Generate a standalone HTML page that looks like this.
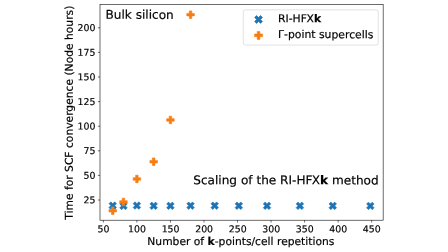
<!DOCTYPE html>
<html lang="en"><head><meta charset="utf-8"><title>RI-HFXk scaling</title>
<style>html,body{margin:0;padding:0;background:#fff;width:448px;height:252px;overflow:hidden}svg{display:block}</style>
</head><body>
<svg width="448" height="252" viewBox="0 0 448 252" font-family="'DejaVu Sans', 'Liberation Sans', sans-serif" fill="#000">
<style>text{stroke:#000;stroke-width:0.18px}</style>
<rect width="448" height="252" fill="#fff"/>
<path d="M110.85 201.83 L112.74 203.72 L114.63 201.83 L116.52 203.72 L114.63 205.60 L116.52 207.49 L114.63 209.38 L112.74 207.49 L110.85 209.38 L108.97 207.49 L110.85 205.60 L108.97 203.72Z" fill="#1d75b7" stroke="#1d75b7" stroke-width="0.6" stroke-linejoin="miter"/>
<path d="M121.59 202.13 L123.47 204.02 L125.36 202.13 L127.25 204.02 L125.36 205.90 L127.25 207.79 L125.36 209.68 L123.47 207.79 L121.59 209.68 L119.70 207.79 L121.59 205.90 L119.70 204.02Z" fill="#1d75b7" stroke="#1d75b7" stroke-width="0.6" stroke-linejoin="miter"/>
<path d="M135.00 201.78 L136.89 203.67 L138.78 201.78 L140.66 203.67 L138.78 205.55 L140.66 207.44 L138.78 209.33 L136.89 207.44 L135.00 209.33 L133.11 207.44 L135.00 205.55 L133.11 203.67Z" fill="#1d75b7" stroke="#1d75b7" stroke-width="0.6" stroke-linejoin="miter"/>
<path d="M151.77 202.06 L153.66 203.95 L155.55 202.06 L157.44 203.95 L155.55 205.83 L157.44 207.72 L155.55 209.61 L153.66 207.72 L151.77 209.61 L149.88 207.72 L151.77 205.83 L149.88 203.95Z" fill="#1d75b7" stroke="#1d75b7" stroke-width="0.6" stroke-linejoin="miter"/>
<path d="M168.54 202.06 L170.43 203.95 L172.32 202.06 L174.21 203.95 L172.32 205.83 L174.21 207.72 L172.32 209.61 L170.43 207.72 L168.54 209.61 L166.66 207.72 L168.54 205.83 L166.66 203.95Z" fill="#1d75b7" stroke="#1d75b7" stroke-width="0.6" stroke-linejoin="miter"/>
<path d="M188.67 201.93 L190.55 203.82 L192.44 201.93 L194.33 203.82 L192.44 205.70 L194.33 207.59 L192.44 209.48 L190.55 207.59 L188.67 209.48 L186.78 207.59 L188.67 205.70 L186.78 203.82Z" fill="#1d75b7" stroke="#1d75b7" stroke-width="0.6" stroke-linejoin="miter"/>
<path d="M212.82 201.93 L214.70 203.82 L216.59 201.93 L218.48 203.82 L216.59 205.70 L218.48 207.59 L216.59 209.48 L214.70 207.59 L212.82 209.48 L210.93 207.59 L212.82 205.70 L210.93 203.82Z" fill="#1d75b7" stroke="#1d75b7" stroke-width="0.6" stroke-linejoin="miter"/>
<path d="M236.96 201.98 L238.85 203.87 L240.74 201.98 L242.63 203.87 L240.74 205.75 L242.63 207.64 L240.74 209.53 L238.85 207.64 L236.96 209.53 L235.08 207.64 L236.96 205.75 L235.08 203.87Z" fill="#1d75b7" stroke="#1d75b7" stroke-width="0.6" stroke-linejoin="miter"/>
<path d="M265.14 202.03 L267.03 203.92 L268.91 202.03 L270.80 203.92 L268.91 205.80 L270.80 207.69 L268.91 209.58 L267.03 207.69 L265.14 209.58 L263.25 207.69 L265.14 205.80 L263.25 203.92Z" fill="#1d75b7" stroke="#1d75b7" stroke-width="0.6" stroke-linejoin="miter"/>
<path d="M298.01 202.03 L299.89 203.92 L301.78 202.03 L303.67 203.92 L301.78 205.80 L303.67 207.69 L301.78 209.58 L299.89 207.69 L298.01 209.58 L296.12 207.69 L298.01 205.80 L296.12 203.92Z" fill="#1d75b7" stroke="#1d75b7" stroke-width="0.6" stroke-linejoin="miter"/>
<path d="M330.88 202.08 L332.76 203.97 L334.65 202.08 L336.54 203.97 L334.65 205.85 L336.54 207.74 L334.65 209.63 L332.76 207.74 L330.88 209.63 L328.99 207.74 L330.88 205.85 L328.99 203.97Z" fill="#1d75b7" stroke="#1d75b7" stroke-width="0.6" stroke-linejoin="miter"/>
<path d="M368.44 202.13 L370.33 204.02 L372.22 202.13 L374.10 204.02 L372.22 205.90 L374.10 207.79 L372.22 209.68 L370.33 207.79 L368.44 209.68 L366.55 207.79 L368.44 205.90 L366.55 204.02Z" fill="#1d75b7" stroke="#1d75b7" stroke-width="0.6" stroke-linejoin="miter"/>
<path d="M111.48 206.90 L114.00 206.90 L114.00 209.41 L116.52 209.41 L116.52 211.93 L114.00 211.93 L114.00 214.45 L111.48 214.45 L111.48 211.93 L108.97 211.93 L108.97 209.41 L111.48 209.41Z" fill="#f97c11" stroke="#f97c11" stroke-width="0.6" stroke-linejoin="miter"/>
<path d="M122.22 198.14 L124.73 198.14 L124.73 200.65 L127.25 200.65 L127.25 203.17 L124.73 203.17 L124.73 205.69 L122.22 205.69 L122.22 203.17 L119.70 203.17 L119.70 200.65 L122.22 200.65Z" fill="#f97c11" stroke="#f97c11" stroke-width="0.6" stroke-linejoin="miter"/>
<path d="M135.63 175.21 L138.15 175.21 L138.15 177.73 L140.66 177.73 L140.66 180.24 L138.15 180.24 L138.15 182.76 L135.63 182.76 L135.63 180.24 L133.11 180.24 L133.11 177.73 L135.63 177.73Z" fill="#f97c11" stroke="#f97c11" stroke-width="0.6" stroke-linejoin="miter"/>
<path d="M152.40 157.89 L154.92 157.89 L154.92 160.41 L157.44 160.41 L157.44 162.93 L154.92 162.93 L154.92 165.44 L152.40 165.44 L152.40 162.93 L149.88 162.93 L149.88 160.41 L152.40 160.41Z" fill="#f97c11" stroke="#f97c11" stroke-width="0.6" stroke-linejoin="miter"/>
<path d="M169.17 116.17 L171.69 116.17 L171.69 118.69 L174.21 118.69 L174.21 121.20 L171.69 121.20 L171.69 123.72 L169.17 123.72 L169.17 121.20 L166.66 121.20 L166.66 118.69 L169.17 118.69Z" fill="#f97c11" stroke="#f97c11" stroke-width="0.6" stroke-linejoin="miter"/>
<path d="M189.30 10.88 L191.81 10.88 L191.81 13.40 L194.33 13.40 L194.33 15.92 L191.81 15.92 L191.81 18.43 L189.30 18.43 L189.30 15.92 L186.78 15.92 L186.78 13.40 L189.30 13.40Z" fill="#f97c11" stroke="#f97c11" stroke-width="0.6" stroke-linejoin="miter"/>
<line x1="103.35" x2="103.35" y1="220.2" y2="222.5" stroke="#000" stroke-width="0.58"/>
<text transform="translate(103.50 232.3) rotate(0.03)" font-size="9.4" text-anchor="middle">50</text>
<line x1="136.89" x2="136.89" y1="220.2" y2="222.5" stroke="#000" stroke-width="0.58"/>
<text transform="translate(137.04 232.3) rotate(0.03)" font-size="9.4" text-anchor="middle">100</text>
<line x1="170.43" x2="170.43" y1="220.2" y2="222.5" stroke="#000" stroke-width="0.58"/>
<text transform="translate(170.58 232.3) rotate(0.03)" font-size="9.4" text-anchor="middle">150</text>
<line x1="203.97" x2="203.97" y1="220.2" y2="222.5" stroke="#000" stroke-width="0.58"/>
<text transform="translate(204.12 232.3) rotate(0.03)" font-size="9.4" text-anchor="middle">200</text>
<line x1="237.51" x2="237.51" y1="220.2" y2="222.5" stroke="#000" stroke-width="0.58"/>
<text transform="translate(237.66 232.3) rotate(0.03)" font-size="9.4" text-anchor="middle">250</text>
<line x1="271.05" x2="271.05" y1="220.2" y2="222.5" stroke="#000" stroke-width="0.58"/>
<text transform="translate(271.20 232.3) rotate(0.03)" font-size="9.4" text-anchor="middle">300</text>
<line x1="304.59" x2="304.59" y1="220.2" y2="222.5" stroke="#000" stroke-width="0.58"/>
<text transform="translate(304.74 232.3) rotate(0.03)" font-size="9.4" text-anchor="middle">350</text>
<line x1="338.13" x2="338.13" y1="220.2" y2="222.5" stroke="#000" stroke-width="0.58"/>
<text transform="translate(338.28 232.3) rotate(0.03)" font-size="9.4" text-anchor="middle">400</text>
<line x1="371.67" x2="371.67" y1="220.2" y2="222.5" stroke="#000" stroke-width="0.58"/>
<text transform="translate(371.82 232.3) rotate(0.03)" font-size="9.4" text-anchor="middle">450</text>
<line x1="97.9" x2="100.0" y1="200.00" y2="200.00" stroke="#000" stroke-width="0.58"/>
<text transform="translate(95.45 203.30) rotate(0.03)" font-size="9.4" text-anchor="end">25</text>
<line x1="97.9" x2="100.0" y1="175.40" y2="175.40" stroke="#000" stroke-width="0.58"/>
<text transform="translate(95.45 178.70) rotate(0.03)" font-size="9.4" text-anchor="end">50</text>
<line x1="97.9" x2="100.0" y1="150.80" y2="150.80" stroke="#000" stroke-width="0.58"/>
<text transform="translate(95.45 154.10) rotate(0.03)" font-size="9.4" text-anchor="end">75</text>
<line x1="97.9" x2="100.0" y1="126.20" y2="126.20" stroke="#000" stroke-width="0.58"/>
<text transform="translate(95.45 129.50) rotate(0.03)" font-size="9.4" text-anchor="end">100</text>
<line x1="97.9" x2="100.0" y1="101.60" y2="101.60" stroke="#000" stroke-width="0.58"/>
<text transform="translate(95.45 104.90) rotate(0.03)" font-size="9.4" text-anchor="end">125</text>
<line x1="97.9" x2="100.0" y1="77.00" y2="77.00" stroke="#000" stroke-width="0.58"/>
<text transform="translate(95.45 80.30) rotate(0.03)" font-size="9.4" text-anchor="end">150</text>
<line x1="97.9" x2="100.0" y1="52.40" y2="52.40" stroke="#000" stroke-width="0.58"/>
<text transform="translate(95.45 55.70) rotate(0.03)" font-size="9.4" text-anchor="end">175</text>
<line x1="97.9" x2="100.0" y1="27.80" y2="27.80" stroke="#000" stroke-width="0.58"/>
<text transform="translate(95.45 31.10) rotate(0.03)" font-size="9.4" text-anchor="end">200</text>
<rect x="100.0" y="4.4" width="283.15" height="215.80" fill="none" stroke="#000" stroke-width="0.58"/>
<text transform="translate(240.88 245.05) rotate(0.03)" font-size="10.73" text-anchor="middle">Number of <tspan font-weight="bold">k</tspan>-points/cell repetitions</text>
<text transform="translate(72.7 112.70) rotate(-90.03)" font-size="10.73" text-anchor="middle">Time for SCF convergence (Node hours)</text>
<text transform="translate(105.5 18.85) rotate(0.03)" font-size="12.1">Bulk silicon</text>
<text transform="translate(193.25 184.3) rotate(0.03)" font-size="12.1">Scaling of the RI-HF<tspan dx="-0.7">X</tspan><tspan font-weight="bold" dx="-0.15">k</tspan><tspan dx="0.1"> method</tspan></text>
<rect x="243.3" y="9.85" width="134.95" height="35.25" rx="2.1" ry="2.1" fill="#fff" fill-opacity="0.8" stroke="#ccc" stroke-opacity="0.75" stroke-width="0.75"/>
<path d="M256.56 15.47 L258.55 17.46 L260.54 15.47 L262.53 17.46 L260.54 19.45 L262.53 21.44 L260.54 23.43 L258.55 21.44 L256.56 23.43 L254.58 21.44 L256.56 19.45 L254.58 17.46Z" fill="#1d75b7" stroke="#1d75b7" stroke-width="0.6"/>
<path d="M257.23 31.42 L259.88 31.42 L259.88 34.07 L262.53 34.07 L262.53 36.73 L259.88 36.73 L259.88 39.38 L257.23 39.38 L257.23 36.73 L254.58 36.73 L254.58 34.07 L257.23 34.07Z" fill="#f97c11" stroke="#f97c11" stroke-width="0.6"/>
<text transform="translate(278.0 22.2) rotate(0.03)" font-size="10.82">RI-HF<tspan dx="-0.55">X</tspan><tspan font-weight="bold" dx="0.25">k</tspan></text>
<text transform="translate(278.0 38.1) rotate(0.03)" font-size="10.82">Γ-point supercells</text>
</svg>
</body></html>
